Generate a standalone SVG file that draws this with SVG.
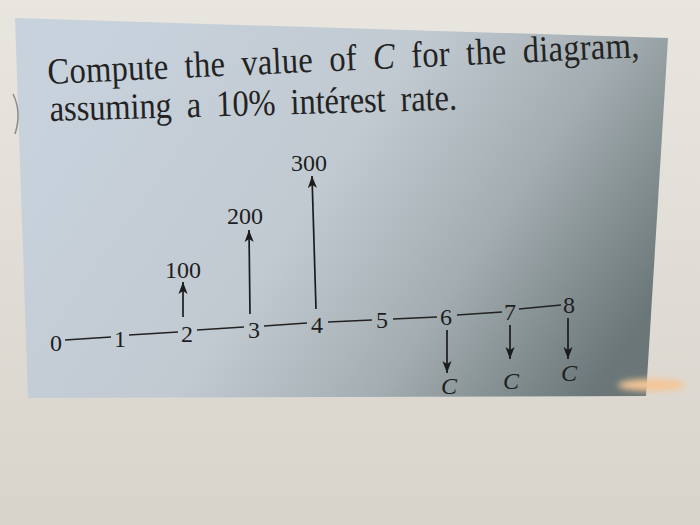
<svg xmlns="http://www.w3.org/2000/svg" width="700" height="525" viewBox="0 0 700 525">
  <defs>
    <linearGradient id="bg" x1="0" y1="0" x2="0" y2="1">
      <stop offset="0" stop-color="#e9e6e0"/>
      <stop offset="1" stop-color="#d8d4cc"/>
    </linearGradient>
    <linearGradient id="panel" x1="0" y1="0.3" x2="1" y2="0.7">
      <stop offset="0" stop-color="#c8d2dd"/>
      <stop offset="0.45" stop-color="#c1cad1"/>
      <stop offset="0.72" stop-color="#a3adb1"/>
      <stop offset="1" stop-color="#6a7677"/>
    </linearGradient>
    <filter id="blur" x="-50%" y="-50%" width="200%" height="200%">
      <feGaussianBlur stdDeviation="3"/>
    </filter>
    <marker id="ah" viewBox="0 0 10 10" refX="10" refY="5" markerWidth="12" markerHeight="12" markerUnits="userSpaceOnUse" orient="auto">
      <path d="M0,1.2 L10,5 L0,8.8 L2.5,5 Z" fill="#1c1c1c"/>
    </marker>
    <style>
      .t { font-family: "Liberation Serif", "DejaVu Serif", serif; fill: #1e1e1e; }
      .title { font-size: 37px; fill: #232323; }
      .num { font-size: 24px; text-anchor: middle; }
      .c { font-size: 24px; font-style: italic; text-anchor: middle; }
      .ln { stroke: #222; stroke-width: 1.5; fill: none; }
      .ar { stroke: #1c1c1c; stroke-width: 1.7; fill: none; marker-end: url(#ah); }
    </style>
  </defs>

  <rect width="700" height="525" fill="url(#bg)"/>
  <polygon points="15,18 668,38 646,396 28,398" fill="url(#panel)"/>
  <path d="M13,94 Q22,112 15,134" stroke="#8c8c8c" stroke-width="1.5" fill="none"/>
  <ellipse cx="652" cy="385" rx="34" ry="6" fill="#f4c696" filter="url(#blur)"/>

  <g id="title">
    <text class="t title" x="0" y="0" word-spacing="9" textLength="673" lengthAdjust="spacing" transform="translate(48 84) rotate(-2.6) scale(0.88 1)">Compute the value of <tspan font-style="italic">C</tspan> for the diagram,</text>
    <text class="t title" x="0" y="0" word-spacing="8" textLength="463" lengthAdjust="spacing" transform="translate(50 121) rotate(-1.6) scale(0.88 1)">assuming a 10% intérest rate.</text>
  </g>

  <g id="connectors">
    <line class="ln" x1="65" y1="340" x2="111" y2="337"/>
    <line class="ln" x1="129" y1="335" x2="178" y2="332"/>
    <line class="ln" x1="197" y1="330" x2="244" y2="327"/>
    <line class="ln" x1="264" y1="326" x2="307" y2="323"/>
    <line class="ln" x1="328" y1="322" x2="372" y2="320"/>
    <line class="ln" x1="393" y1="319" x2="437" y2="317"/>
    <line class="ln" x1="457" y1="315" x2="502" y2="312"/>
    <line class="ln" x1="519" y1="309" x2="561" y2="305"/>
    <line class="ar" x1="183" y1="317" x2="183" y2="282"/>
    <line class="ar" x1="250" y1="314" x2="249" y2="230"/>
    <line class="ar" x1="316" y1="309" x2="312" y2="176"/>
    <line class="ar" x1="447" y1="330" x2="447" y2="373"/>
    <line class="ar" x1="510" y1="325" x2="510" y2="359"/>
    <line class="ar" x1="568" y1="318" x2="568" y2="359"/>
  </g>

  <g id="t0"><text class="t num" x="56" y="351">0</text></g>
  <g id="t1"><text class="t num" x="120" y="347">1</text></g>
  <g id="t2"><text class="t num" x="187" y="342">2</text></g>
  <g id="t3"><text class="t num" x="254" y="338">3</text></g>
  <g id="t4"><text class="t num" x="317" y="333">4</text></g>
  <g id="t5"><text class="t num" x="382" y="328">5</text></g>
  <g id="t6"><text class="t num" x="446" y="325">6</text></g>
  <g id="t7"><text class="t num" x="510" y="320">7</text></g>
  <g id="t8"><text class="t num" x="569" y="313">8</text></g>

  <g id="f100"><text class="t num" x="183" y="278">100</text></g>
  <g id="f200"><text class="t num" x="245" y="224">200</text></g>
  <g id="f300"><text class="t num" x="309" y="171">300</text></g>

  <g id="c6"><text class="t c" x="449" y="394">C</text></g>
  <g id="c7"><text class="t c" x="511" y="389">C</text></g>
  <g id="c8"><text class="t c" x="569" y="381">C</text></g>
</svg>
